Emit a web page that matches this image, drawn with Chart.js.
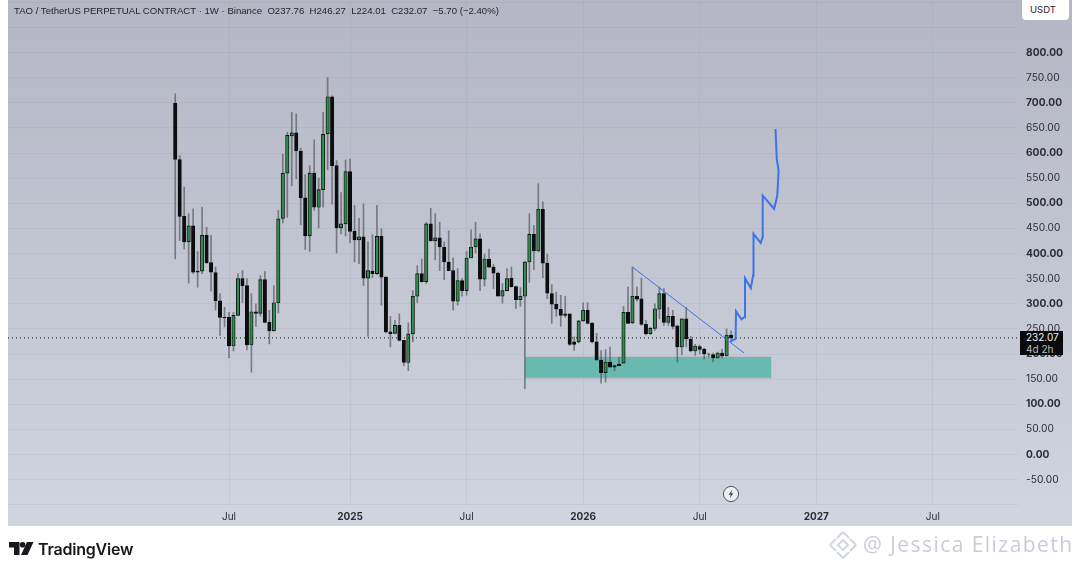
<!DOCTYPE html>
<html>
<head>
<meta charset="utf-8">
<title>TAO / TetherUS</title>
<script src="https://cdn.jsdelivr.net/npm/chart.js@4/dist/chart.umd.min.js"></script>
<style>
  html, body { margin: 0; padding: 0; background: #fff; }
  body { width: 1080px; height: 570px; position: relative; overflow: hidden; font-family: Inter, sans-serif; }
  #panel { position: absolute; left: 8px; top: 0; width: 1064px; height: 526px; background: linear-gradient(#b4b7c3, #d1d5e0); }
  #wrap { position: absolute; left: 0; top: 0; width: 1080px; height: 570px; }
  #header { position: absolute; left: 14px; top: 4px; font-family: "Liberation Sans", sans-serif; font-size: 9.6px; line-height: 13px; color: #23252b; white-space: pre; }
  #unit { position: absolute; left: 1022px; top: 0; width: 47px; height: 20px; padding-left: 8px; box-sizing: border-box; background: #fff; border-radius: 0 0 4px 4px; font-size: 9.5px; line-height: 20px; color: #23252b; }
  #lastTag { position: absolute; left: 1020px; top: 331px; width: 43px; height: 24px; padding: 1px 0 0 6px; box-sizing: border-box; background: #0a0a0c; color: #f2f3f5; font-size: 10px; line-height: 11.5px; }
  #lastTag span { color: #b9bcc4; }
  #bolt { position: absolute; left: 722px; top: 485px; }
  #logo { position: absolute; left: 9px; top: 541px; }
  #brand { position: absolute; left: 38px; top: 539px; font-size: 16px; line-height: 20px; font-weight: 600; color: #17181c; letter-spacing: -0.2px; }
  #mark { position: absolute; left: 828px; top: 530px; }
  #credit { position: absolute; left: 863px; top: 530px; font-family: "Open Sans", sans-serif; font-size: 21px; line-height: 28px; color: #c9cdd8; letter-spacing: 1.45px; white-space: pre; }
</style>
</head>
<body>
<div id="panel"></div>
<div id="wrap"><canvas id="priceChart" width="1080" height="570"></canvas></div>
<div id="header">TAO / TetherUS PERPETUAL CONTRACT · 1W · Binance  O237.76  H246.27  L224.01  C232.07  −5.70 (−2.40%)</div>
<div id="unit">USDT</div>
<div id="lastTag">232.07<br><span>4d 2h</span></div>
<svg id="bolt" width="18" height="18" viewBox="0 0 18 18">
  <circle cx="9" cy="9" r="7.6" fill="#eceef3" stroke="#44474f" stroke-width="0.9"/>
  <path d="M10.2 4.8 L6.6 9.8 H8.8 L7.8 13.2 L11.4 8.2 H9.2 Z" fill="#44474f"/>
</svg>
<svg id="logo" width="25" height="15" viewBox="0 0 25 15">
  <path d="M0 1 H10.5 V14 H5 V6.5 H0 Z" fill="#17181c"/>
  <circle cx="13.6" cy="3.8" r="2.8" fill="#17181c"/>
  <path d="M18 1 H24.5 L18.5 14 H12 Z" fill="#17181c"/>
</svg>
<div id="brand">TradingView</div>
<svg id="mark" width="30" height="30" viewBox="0 0 30 30">
  <g fill="none" stroke="#d3d7e0" stroke-width="2.2">
    <path d="M15 2 L21 8 M15 2 L9 8"/>
    <path d="M15 28 L21 22 M15 28 L9 22"/>
    <path d="M2 15 L8 9 M2 15 L8 21 M28 15 L22 9 M28 15 L22 21"/>
    <path d="M15 10 L20 15 L15 20 L10 15 Z"/>
  </g>
</svg>
<div id="credit">@ Jessica Elizabeth</div>

<script>
// Weekly candles, first candle is week 0
const opens = [699,587,474,423,455,365,365,436,382,362,306,273,273,216,277,350,336,218,284,281,348,263,246,302,470,560,634,640,604,511,435,560,492,527,638,712,575,451,459,563,444,427,
  433,351,365,360,434,353,244,241,257,227,183,240,315,360,344,459,425,431,413,383,366,305,346,326,391,413,429,349,389,373,361,315,326,351,334,308,315,383,438,405,488,381,
  320,299,289,280,280,224,224,266,287,261,224,188,163,184,177,180,182,283,262,315,310,259,240,251,289,320,263,275,256,214,270,229,206,215,210,200,199,192,202,196,237.76];
const highs = [718,595,532,479,489,404,492,452,436,373,320,293,283,283,360,366,350,320,300,356,364,287,336,486,598,641,681,678,610,557,575,626,550,681,750,714,585,521,586,588,496,470,
  499,423,437,496,449,354,275,267,280,227,262,326,376,389,462,490,479,462,423,445,391,370,350,404,447,462,439,399,409,378,363,340,370,373,335,332,385,479,456,539,503,399,
  338,323,317,315,280,234,267,302,302,263,241,207,209,214,178,194,295,333,373,333,351,267,253,300,333,330,293,287,257,270,293,235,219,218,212,202,202,204,210,250,246.27];
const lows = [389,426,409,341,360,333,360,380,325,287,237,254,192,206,277,302,208,164,255,275,262,220,246,282,461,472,535,549,457,408,404,486,451,492,567,498,401,439,435,421,383,380,
  336,235,352,358,297,242,214,240,226,177,167,224,302,343,340,425,387,366,348,366,287,297,315,317,391,401,326,335,372,330,315,301,325,333,290,295,131,343,368,403,352,310,
  261,275,255,273,217,207,222,265,260,222,187,142,144,174,167,177,182,261,260,305,257,238,239,247,270,257,257,250,184,198,214,204,197,200,190,194,184,191,192,196,224.01];
const closes = [587,474,423,455,363,363,436,382,363,306,273,272,216,277,350,336,218,284,281,348,263,246,302,469,560,635,640,604,511,435,560,492,527,637,712,575,451,459,563,444,427,433,
  351,366,360,434,353,244,240,257,227,183,240,315,360,344,459,425,431,413,383,366,305,346,326,391,413,429,349,389,373,361,315,326,350,334,308,315,383,438,405,488,381,321,
  299,289,277,277,219,219,266,287,261,224,188,163,184,174,174,177,283,261,315,309,259,240,251,290,320,263,275,255,214,270,230,206,216,209,200,199.7,192,202,196,237.76,232.07];

// Projected path and the trend line, week number / price
const pathWeeks = [123.9,125,125.1,126.3,126.9,127.1,128.4,128.9,129,130.6,131,131.05,133.6,134.3,134.6,134.2,133.9];
const pathPrices = [225,230,285,269,273,351,331,356,439,421,432,515,489,515,565,588,648];
const trendWeeks = [102,126.9];
const trendPrices = [373,202];

// Support box, week range and price range
const zoneWeeks = [78,133];
const zoneTop = 193.8;
const zoneBottom = 152.6;

const lastPrice = 232.07;

const xTickWeeks = [12,39,65,91,117,143,169];
const xTickLabels = ["Jul","2025","Jul","2026","Jul","2027","Jul"];
const xBoldLabels = ["2025","2026","2027"];
const yTickValues = [900,850,800,750,700,650,600,550,500,450,400,350,300,250,200,150,100,50,0,-50,-100];
const yHiddenLabels = [900,850,-100];

const weekMin = -37.3;
const weekMax = 188;

const upColor = "#2f8d4e";
const downColor = "#0c0d0f";
const wickColor = "rgba(72,74,82,0.62)";
const gridColor = "rgba(110,116,134,0.1)";
const blue = "#3b72ee";

function toPoints(xs, ys) {
  return xs.map((x, i) => ({ x: x, y: ys[i] }));
}

const bodyData = opens.map((o, i) => ({ x: i, y: [o, closes[i]] }));
const wickData = highs.map((h, i) => ({ x: i, y: [lows[i], h] }));

new Chart(document.getElementById("priceChart"), {
  data: {
    datasets: [
      {
        type: "line",
        data: toPoints(zoneWeeks, [zoneBottom, zoneBottom]),
        borderColor: "#9ea6ad",
        borderWidth: 1,
        pointRadius: 0,
        order: 5
      },
      {
        type: "line",
        data: toPoints(zoneWeeks, [zoneTop, zoneTop]),
        borderColor: "#9ea6ad",
        borderWidth: 1,
        backgroundColor: "#69b9b1",
        fill: { value: zoneBottom },
        pointRadius: 0,
        order: 6
      },
      {
        type: "bar",
        data: wickData,
        backgroundColor: wickColor,
        barThickness: 1,
        grouped: false,
        order: 4
      },
      {
        type: "bar",
        data: bodyData,
        backgroundColor: (ctx) => {
          if (ctx.dataIndex === undefined) return upColor;
          return closes[ctx.dataIndex] >= opens[ctx.dataIndex] ? upColor : downColor;
        },
        borderColor: downColor,
        borderWidth: 0.9,
        borderSkipped: false,
        barThickness: 3.4,
        grouped: false,
        order: 3
      },
      {
        type: "line",
        data: toPoints([weekMin, weekMax], [lastPrice, lastPrice]),
        borderColor: "#111",
        borderWidth: 1,
        borderDash: [1, 3],
        pointRadius: 0,
        order: 2
      },
      {
        type: "line",
        data: toPoints(trendWeeks, trendPrices),
        borderColor: blue,
        borderWidth: 1,
        pointRadius: 0,
        order: 1
      },
      {
        type: "line",
        data: toPoints(pathWeeks, pathPrices),
        borderColor: blue,
        borderWidth: 2,
        pointRadius: 0,
        order: 0
      }
    ]
  },
  options: {
    responsive: false,
    animation: false,
    layout: { padding: { left: 8, top: 2.25, right: 0, bottom: 0 } },
    plugins: { legend: { display: false }, tooltip: { enabled: false } },
    scales: {
      x: {
        type: "linear",
        offset: false,
        min: weekMin,
        max: weekMax,
        afterBuildTicks: (scale) => { scale.ticks = xTickWeeks.map(v => ({ value: v })); },
        afterFit: (scale) => {
          scale.height = 65.25;
          scale.paddingLeft = 0;
          scale.paddingRight = 0;
        },
        border: { display: false },
        grid: { color: gridColor, drawTicks: false, offset: false },
        ticks: {
          autoSkip: false,
          maxRotation: 0,
          padding: 6,
          color: "#2a2c33",
          font: (ctx) => ({
            family: "Inter",
            size: 10,
            weight: xBoldLabels.includes(xTickLabels[ctx.index]) ? "700" : "400"
          }),
          callback: (value) => xTickLabels[xTickWeeks.indexOf(value)]
        }
      },
      y: {
        position: "right",
        min: -100,
        max: 900,
        afterBuildTicks: (scale) => { scale.ticks = yTickValues.map(v => ({ value: v })); },
        afterFit: (scale) => {
          scale.width = 62;
          scale.paddingTop = 0;
          scale.paddingBottom = 0;
        },
        border: { display: false },
        grid: { color: gridColor, drawTicks: false },
        ticks: {
          autoSkip: false,
          crossAlign: "near",
          padding: 8,
          color: "#2a2c33",
          font: (ctx) => ({
            family: "Inter",
            size: 10.2,
            weight: yTickValues[ctx.index] % 100 === 0 ? "700" : "400"
          }),
          callback: (value) => yHiddenLabels.includes(value) ? "" : value.toFixed(2)
        }
      }
    }
  }
});
</script>
</body>
</html>
